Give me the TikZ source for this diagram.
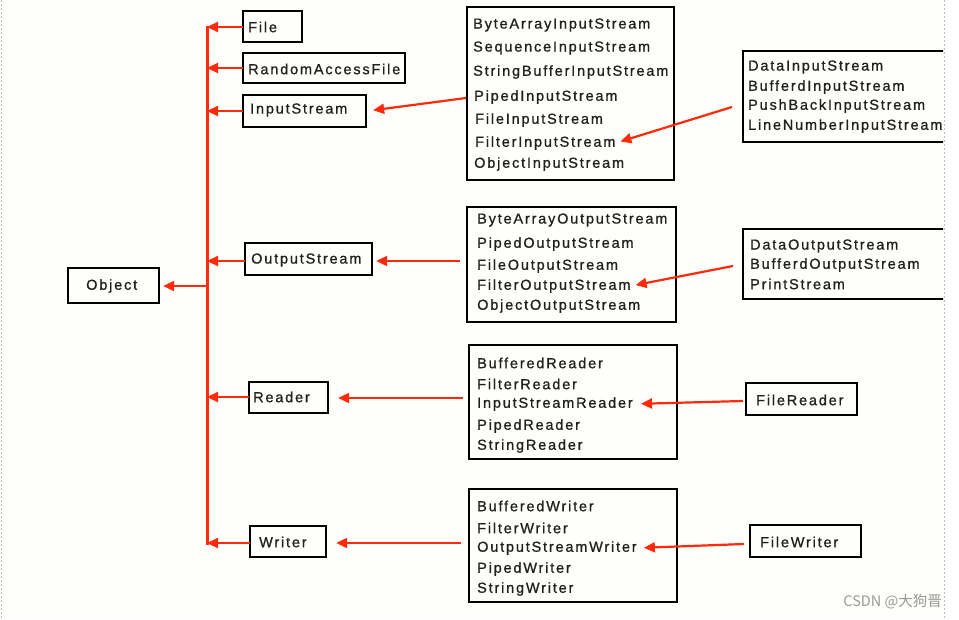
\documentclass[tikz,border=0pt]{standalone}
\usepackage{fontspec}
\setmainfont{Liberation Sans}[LetterSpace=12.5,FakeBold=0.9]
\newfontfamily\cjk{Noto Sans CJK SC}
\usetikzlibrary{arrows.meta,calc}
\definecolor{arrred}{HTML}{FF2A0A}
\definecolor{txt}{HTML}{202020}
\definecolor{bg}{HTML}{FEFEFB}
\tikzset{
  box/.style={draw=black, line width=2.4pt, inner sep=0pt, rectangle},
  lbl/.style={font=\fontsize{14.5}{16}\selectfont, text=txt, inner sep=0pt, anchor=west},
  arr/.style={draw=arrred, line width=2.2pt, -{Triangle[length=11pt,width=10pt]}},
  spineln/.style={draw=arrred, line width=3pt},
  pageedge/.style={draw=black!25, line width=0.8pt, dash pattern=on 2pt off 2pt},
}
\begin{document}
\begin{tikzpicture}[x=1pt,y=-1pt]
\useasboundingbox (0,0) rectangle (959,619);
\fill[bg] (0,0) rectangle (944,619);
\fill[white] (944,0) rectangle (959,619);
\draw[pageedge] (944,0) -- (944,619);
\draw[pageedge] (1,0) -- (1,619);

% left column boxes
\node[box, minimum width=59, minimum height=31] (file) at (272.5,26.5) {};
\node[lbl] (fileT) at (248,27) {File};
\node[box, minimum width=162, minimum height=30] (raf) at (324,68) {};
\node[lbl] (rafT) at (248,69) {RandomAccessFile};
\node[box, minimum width=123, minimum height=32] (is) at (304.5,111) {};
\node[lbl] (isT) at (250,110) {InputStream};
\node[box, minimum width=127, minimum height=32] (os) at (308.5,259) {};
\node[lbl] (osT) at (251,260) {OutputStream};
\node[box, minimum width=91, minimum height=35] (obj) at (113.5,285.5) {};
\node[lbl] (objT) at (86,286) {Object};
\node[box, minimum width=79, minimum height=31] (rd) at (288.5,397.5) {};
\node[lbl] (rdT) at (253,397) {Reader};
\node[box, minimum width=76, minimum height=31] (wr) at (288,541.5) {};
\node[lbl] (wrT) at (259,542) {Writer};

% input stream list
\node[box, minimum width=207, minimum height=173] (inbox) at (570.5,93.5) {};
\node[lbl] (bais) at (473,25) {ByteArrayInputStream};
\node[lbl] (sis)  at (473,48) {SequenceInputStream};
\node[lbl] (sbis) at (473,72) {StringBufferInputStream};
\node[lbl] (pis)  at (474,97) {PipedInputStream};
\node[lbl] (fileis) at (475,120) {FileInputStream};
\node[lbl] (fis)  at (475,143) {FilterInputStream};
\node[lbl] (ois)  at (474,164) {ObjectInputStream};

% output stream list
\node[box, minimum width=209, minimum height=115] (outbox) at (571.5,264.5) {};
\node[lbl] (baos) at (477,220) {ByteArrayOutputStream};
\node[lbl] (pos)  at (477,244) {PipedOutputStream};
\node[lbl] (fileos) at (477,266) {FileOutputStream};
\node[lbl] (fos)  at (477,286) {FilterOutputStream};
\node[lbl] (oos)  at (477,306) {ObjectOutputStream};

% reader list
\node[box, minimum width=208, minimum height=114] (rdbox) at (573,402) {};
\node[lbl] (brd) at (477,363) {BufferedReader};
\node[lbl] (frd) at (477,384) {FilterReader};
\node[lbl] (isr) at (477,404) {InputStreamReader};
\node[lbl] (prd) at (477,426) {PipedReader};
\node[lbl] (srd) at (477,446) {StringReader};

% writer list
\node[box, minimum width=208, minimum height=113] (wrbox) at (573,545.5) {};
\node[lbl] (bwr) at (477,506) {BufferedWriter};
\node[lbl] (fwr) at (477,528) {FilterWriter};
\node[lbl] (osw) at (477,548) {OutputStreamWriter};
\node[lbl] (pwr) at (477,569) {PipedWriter};
\node[lbl] (swr) at (477,589) {StringWriter};

% right boxes (cut at page edge)
\begin{scope}
\clip (700,0) rectangle (943,619);
\node[box, minimum width=240, minimum height=91] (fisbox) at (863,96.5) {};
\node[lbl] (dis) at (748,67) {DataInputStream};
\node[lbl] (bis) at (748,87) {BufferdInputStream};
\node[lbl] (pbis) at (748,106) {PushBackInputStream};
\node[lbl] (lnis) at (748,126) {LineNumberInputStream};
\node[box, minimum width=240, minimum height=70] (fosbox) at (863,264) {};
\node[lbl] (dos) at (750,246) {DataOutputStream};
\node[lbl] (bos) at (750,265) {BufferdOutputStream};
\node[lbl] (ps)  at (750,284) {PrintStream};
\end{scope}
\node[box, minimum width=111, minimum height=32] (fr) at (801.5,399) {};
\node[lbl] (frT) at (756,400) {FileReader};
\node[box, minimum width=111, minimum height=32] (fw) at (805.5,541) {};
\node[lbl] (fwT) at (760,542) {FileWriter};

% spine and arrows to it
\coordinate (spine) at (207,0);
\draw[spineln] (207,26) -- (207,545);
\coordinate (fileA) at (243,27);
\draw[arr] (fileA) -- (fileA -| spine);
\coordinate (rafA) at (243,68);
\draw[arr] (rafA) -- (rafA -| spine);
\coordinate (isA) at (243,111);
\draw[arr] (isA) -- (isA -| spine);
\coordinate (osA) at (245,261);
\draw[arr] (osA) -- (osA -| spine);
\coordinate (rdA) at (249,397);
\draw[arr] (rdA) -- (rdA -| spine);
\coordinate (wrA) at (250,543);
\draw[arr] (wrA) -- (wrA -| spine);
\coordinate (objA) at (207,286);
\draw[arr, shorten >=3pt] (objA) -- (objA -| obj.east);

% arrows from lists to base classes
\coordinate (inS) at (466,98);
\draw[arr, shorten >=6pt] (inS) -- (is.east);
\coordinate (outS) at (460,261);
\draw[arr, shorten >=3pt] (outS) -- (outS -| os.east);
\coordinate (rdS) at (463,398);
\draw[arr, shorten >=9pt] (rdS) -- (rdS -| rd.east);
\coordinate (wrS) at (461,543);
\draw[arr, shorten >=9pt] (wrS) -- (wrS -| wr.east);

% arrows from right boxes
\coordinate (fisS) at (732,107);
\draw[arr, shorten >=5pt] (fisS) -- (fis.east);
\coordinate (fosS) at (733,266);
\draw[arr, shorten >=5pt] (fosS) -- (fos.east);
\coordinate (frS) at (743,401);
\draw[arr, shorten >=8pt] (frS) -- (isr.east);
\coordinate (fwS) at (744,544);
\draw[arr, shorten >=7pt] (fwS) -- (osw.east);

% watermark
\node[anchor=east, inner sep=0pt, text=black!40, font=\cjk\fontsize{14.5}{16}\selectfont] (wm) at (942,602) {CSDN @大狗晋};
\end{tikzpicture}
\end{document}
